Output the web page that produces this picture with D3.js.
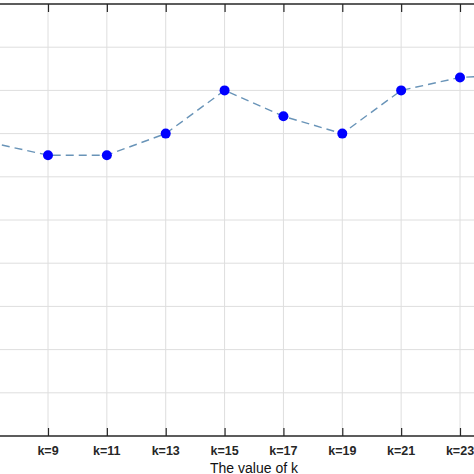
<!DOCTYPE html>
<html>
<head>
<meta charset="utf-8">
<script src="https://cdn.jsdelivr.net/npm/d3@7"></script>
<style>
  body { margin: 0; background: #fff; }
  svg { display: block; }
</style>
</head>
<body>
<script>
// values of k and the (estimated) score at each k
const kValues = [7, 9, 11, 13, 15, 17, 19, 21, 23, 25];
const scores = [93.4, 93.25, 93.25, 93.5, 94.0, 93.7, 93.5, 94.0, 94.15, 94.18];
const kLabels = ["k=9", "k=11", "k=13", "k=15", "k=17", "k=19", "k=21", "k=23"];
const yTicks = [90, 90.5, 91, 91.5, 92, 92.5, 93, 93.5, 94, 94.5, 95];

const width = 474;
const height = 474;
const plotTop = 4;
const plotBottom = 436;

const x = d3.scaleLinear()
    .domain([9, 23])
    .range([48, 460]);

const y = d3.scaleLinear()
    .domain([90, 95])
    .range([plotBottom, plotTop]);

const svg = d3.select("body")
  .append("svg")
    .attr("width", width)
    .attr("height", height)
    .attr("viewBox", [0, 0, width, height]);

// grid
svg.append("g")
  .selectAll("line")
  .data(kValues)
  .join("line")
    .attr("x1", d => x(d)).attr("x2", d => x(d))
    .attr("y1", plotTop).attr("y2", plotBottom)
    .attr("stroke", "#dedede")
    .attr("stroke-width", 1);

svg.append("g")
  .selectAll("line")
  .data(yTicks.slice(1, -1))
  .join("line")
    .attr("x1", 0).attr("x2", width)
    .attr("y1", d => y(d)).attr("y2", d => y(d))
    .attr("stroke", "#dedede")
    .attr("stroke-width", 1);

// bottom axis
svg.append("g")
    .attr("transform", `translate(0,${plotBottom})`)
    .call(d3.axisTop(x).tickValues(kValues).tickSize(8).tickFormat(() => ""))
    .call(g => g.select(".domain").remove())
    .call(g => g.selectAll(".tick line").attr("stroke", "#262626").attr("stroke-width", 1.2));

svg.append("line")
    .attr("x1", 0).attr("x2", width)
    .attr("y1", plotBottom).attr("y2", plotBottom)
    .attr("stroke", "#262626").attr("stroke-width", 1.3);

svg.append("g")
  .selectAll("text")
  .data(kLabels)
  .join("text")
    .attr("x", d => x(+d.slice(2)))
    .attr("y", 455)
    .attr("text-anchor", "middle")
    .attr("font-family", "Liberation Sans, Arial, sans-serif")
    .attr("font-size", 12.5)
    .attr("font-weight", "bold")
    .attr("fill", "#262626")
    .text(d => d);

// top axis (box)
svg.append("g")
    .attr("transform", `translate(0,${plotTop})`)
    .call(d3.axisBottom(x).tickValues(kValues).tickSize(8).tickFormat(() => ""))
    .call(g => g.select(".domain").remove())
    .call(g => g.selectAll(".tick line").attr("stroke", "#262626").attr("stroke-width", 1.2));

svg.append("line")
    .attr("x1", 0).attr("x2", width)
    .attr("y1", plotTop).attr("y2", plotTop)
    .attr("stroke", "#262626").attr("stroke-width", 1.3);

// x-axis label
svg.append("text")
    .attr("x", x(16))
    .attr("y", 473)
    .attr("text-anchor", "middle")
    .attr("font-family", "Liberation Sans, Arial, sans-serif")
    .attr("font-size", 14)
    .attr("fill", "#111")
    .text("The value of k");

// line
const line = d3.line()
    .x((d, i) => x(kValues[i]))
    .y(d => y(d));

svg.append("path")
    .datum(scores)
    .attr("fill", "none")
    .attr("stroke", "#6994b8")
    .attr("stroke-width", 1.4)
    .attr("stroke-dasharray", "8,5")
    .attr("d", line);

svg.append("g")
  .selectAll("circle")
  .data(scores)
  .join("circle")
    .attr("cx", (d, i) => x(kValues[i]))
    .attr("cy", d => y(d))
    .attr("r", 5)
    .attr("fill", "#0000ff");
</script>
</body>
</html>
